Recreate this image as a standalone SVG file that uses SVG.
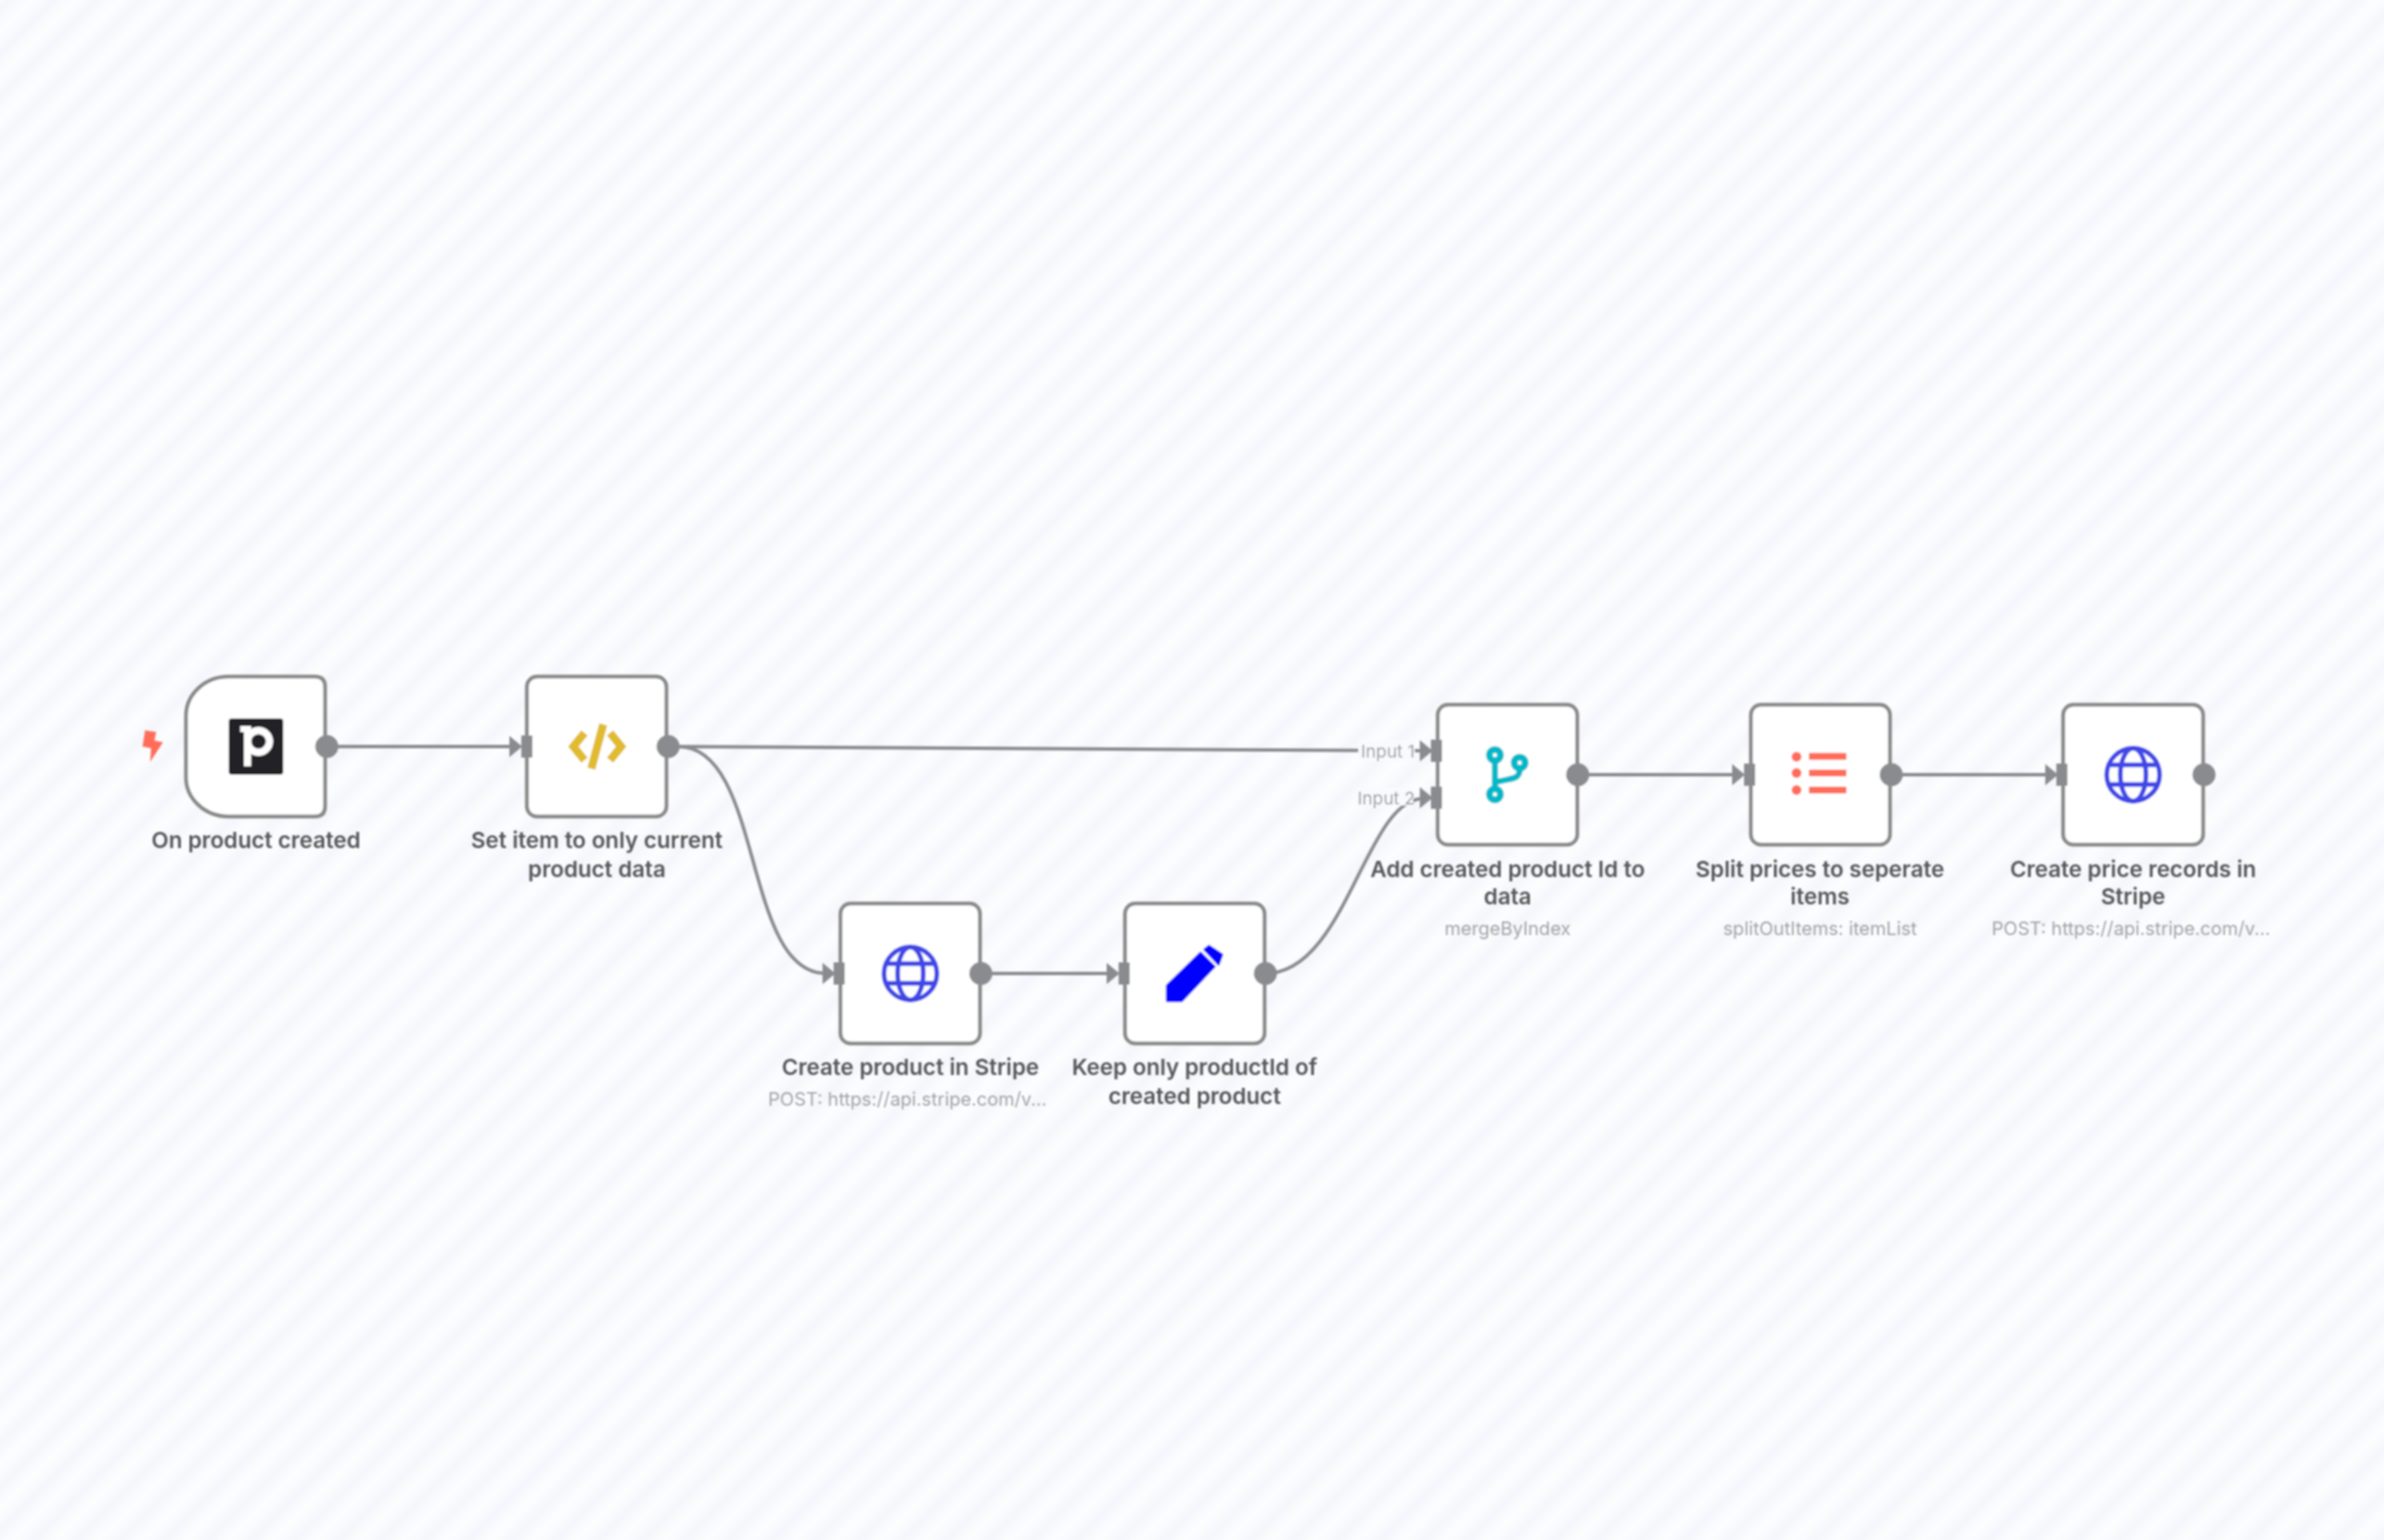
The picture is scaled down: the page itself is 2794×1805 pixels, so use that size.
<svg xmlns="http://www.w3.org/2000/svg" width="2794" height="1805" viewBox="0 0 2794 1805">
<style>
.node{fill:#fff;stroke:#8a8a8a;stroke-width:4.5}
.dot{fill:#8a8b8e}
.port{fill:#8a8b8e}
.edge{fill:none;stroke:#8a8b8e;stroke-width:4}
.title{font-family:Inter,"Liberation Sans",sans-serif;font-size:26.2px;font-weight:600;fill:#555659;text-anchor:middle}
.sub{font-family:Inter,"Liberation Sans",sans-serif;font-size:21.7px;font-weight:400;fill:#a2a3a6;text-anchor:middle}
.inp{font-family:Inter,"Liberation Sans",sans-serif;font-size:20.5px;font-weight:400;fill:#9b9c9f}
.globe{fill:none;stroke:#3f47e6;stroke-width:5.5}
</style>
<defs>
<pattern id="bg" width="36" height="36" patternUnits="userSpaceOnUse" patternTransform="rotate(45)">
<rect width="36" height="36" fill="#fcfdfe"/>
<rect width="17" height="36" fill="#f6f7fc"/>
</pattern>
<filter id="soft" x="-5%" y="-5%" width="110%" height="110%"><feGaussianBlur stdDeviation="1"/></filter>
<filter id="softbg" x="0" y="0" width="100%" height="100%"><feGaussianBlur stdDeviation="5"/></filter>
<path id="tri" d="M0,-12.5 L15,0 L0,12.5 Z"/>
</defs>
<rect x="-40" y="-40" width="2874" height="1885" fill="url(#bg)" filter="url(#softbg)"/>
<g filter="url(#soft)">
<g id="connectors">
<path class="edge" d="M383,875 H600"/>
<path class="edge" d="M783,875 L1680,880"/>
<path class="edge" d="M795,875 C895,875 870,1141 968,1141"/>
<path class="edge" d="M1149,1141 H1300"/>
<path class="edge" d="M1483,1141 C1578,1141 1600,936 1668,936"/>
<path class="edge" d="M1849,908 H2033"/>
<path class="edge" d="M2216,908 H2400"/>
</g>
<g id="node-pipedrive">
<path class="node" d="M381,805 V945 Q381,957 369,957 H268 A50,46 0 0 1 218,911 V839 A50,46 0 0 1 268,793 H369 Q381,793 381,805 Z"/>
<rect x="268" y="842" width="64" height="66" rx="4" fill="#212326"/>
<circle cx="303" cy="869" r="12.8" fill="none" stroke="#fff" stroke-width="8.4"/>
<rect x="286" y="851" width="8.4" height="47" fill="#fff"/>
<rect x="281.5" y="851" width="8" height="7" fill="#fff"/>
<polygon points="170,856 183,858 181,868 191,870 176,893 177,877 167,875" fill="#ff6d5a"/>
<circle class="dot" cx="383" cy="875" r="13.5"/>
<text class="title" x="300" y="993.5">On product created</text>
</g>
<g id="node-code">
<rect class="node" x="617.5" y="793" width="163.5" height="164" rx="12"/>
<g fill="none" stroke="#e0bb2e" stroke-width="9.5">
<path d="M685,859 L672,875 L685,891"/>
<path d="M715,859 L728,875 L715,891"/>
<path d="M707,849 L693,901"/>
</g>
<use href="#tri" x="597" y="875" fill="#8a8b8e"/>
<rect class="port" x="611" y="862" width="13" height="26"/>
<circle class="dot" cx="783" cy="875" r="13.5"/>
<text class="title" x="699.5" y="993.5">Set item to only current</text>
<text class="title" x="699.5" y="1027.5">product data</text>
</g>
<g id="node-stripe-product">
<rect class="node" x="985" y="1059" width="163.5" height="164" rx="12"/>
<g class="globe">
<circle cx="1067" cy="1141" r="31"/>
<ellipse cx="1067" cy="1141" rx="15" ry="31"/>
<path d="M1040,1129.5 H1094 M1040,1152.5 H1094"/>
</g>
<use href="#tri" x="964" y="1141" fill="#8a8b8e"/>
<rect class="port" x="977" y="1128" width="13" height="26"/>
<circle class="dot" cx="1149.5" cy="1141" r="13.5"/>
<text class="title" x="1067" y="1259.5">Create product in Stripe</text>
<text class="sub" x="1063.5" y="1296">POST: https://api.stripe.com/v...</text>
</g>
<g id="node-keep">
<rect class="node" x="1318.5" y="1059" width="163.5" height="164" rx="12"/>
<g fill="#0000ff" stroke="#0000ff" stroke-width="3" stroke-linejoin="round">
<polygon points="1368,1155 1407,1117 1423,1133 1385,1173 1368,1173"/>
<polygon points="1412,1113 1417,1109 1432,1119 1428,1130"/>
</g>
<use href="#tri" x="1297" y="1141" fill="#8a8b8e"/>
<rect class="port" x="1311" y="1128" width="13" height="26"/>
<circle class="dot" cx="1483" cy="1141" r="13.5"/>
<text class="title" x="1400" y="1259.5">Keep only productId of</text>
<text class="title" x="1400" y="1293.5">created product</text>
</g>
<g id="node-merge">
<rect class="node" x="1685" y="826" width="163.5" height="164" rx="12"/>
<g fill="none" stroke="#00b8c8" stroke-width="8">
<circle cx="1752" cy="885" r="6.5"/>
<circle cx="1781" cy="894" r="6.5"/>
<circle cx="1752" cy="931" r="6.5"/>
<path stroke-width="7" d="M1752,893 V923 M1752,917 C1768,912 1781,915 1781,902"/>
</g>
<use href="#tri" x="1664" y="880" fill="#8a8b8e"/>
<rect class="port" x="1677" y="867" width="13" height="26"/>
<use href="#tri" x="1664" y="935" fill="#8a8b8e"/>
<rect class="port" x="1677" y="922" width="13" height="26"/>
<rect x="1592" y="868" width="66" height="24" fill="#f9fafd"/>
<rect x="1590" y="923" width="66" height="21" fill="#f9fafd"/>
<text class="inp" x="1595" y="888">Input 1</text>
<text class="inp" x="1591" y="943">Input 2</text>
<circle class="dot" cx="1849" cy="908" r="13.5"/>
<text class="title" x="1767" y="1027.5">Add created product Id to</text>
<text class="title" x="1767" y="1059.5">data</text>
<text class="sub" x="1767" y="1096">mergeByIndex</text>
</g>
<g id="node-split">
<rect class="node" x="2052" y="826" width="163" height="164" rx="12"/>
<g fill="#ff6d5a">
<circle cx="2105.5" cy="887" r="5.8"/>
<circle cx="2105.5" cy="906" r="5.8"/>
<circle cx="2105.5" cy="926" r="5.8"/>
<rect x="2120" y="882.5" width="44" height="8" rx="1"/>
<rect x="2120" y="902" width="44" height="8" rx="1"/>
<rect x="2120" y="922" width="44" height="8" rx="1"/>
</g>
<use href="#tri" x="2030" y="908" fill="#8a8b8e"/>
<rect class="port" x="2044" y="895" width="13" height="26"/>
<circle class="dot" cx="2216.5" cy="908" r="13.5"/>
<text class="title" x="2133" y="1027.5">Split prices to seperate</text>
<text class="title" x="2133" y="1059.5">items</text>
<text class="sub" x="2133" y="1096">splitOutItems: itemList</text>
</g>
<g id="node-stripe-price">
<rect class="node" x="2418" y="826" width="164" height="164" rx="12"/>
<g class="globe">
<circle cx="2500" cy="908" r="31"/>
<ellipse cx="2500" cy="908" rx="15" ry="31"/>
<path d="M2473,896.5 H2527 M2473,919.5 H2527"/>
</g>
<use href="#tri" x="2397" y="908" fill="#8a8b8e"/>
<rect class="port" x="2410" y="895" width="13" height="26"/>
<circle class="dot" cx="2583" cy="908" r="13.5"/>
<text class="title" x="2500" y="1027.5">Create price records in</text>
<text class="title" x="2500" y="1059.5">Stripe</text>
<text class="sub" x="2497.5" y="1096">POST: https://api.stripe.com/v...</text>
</g>
</g>
</svg>
